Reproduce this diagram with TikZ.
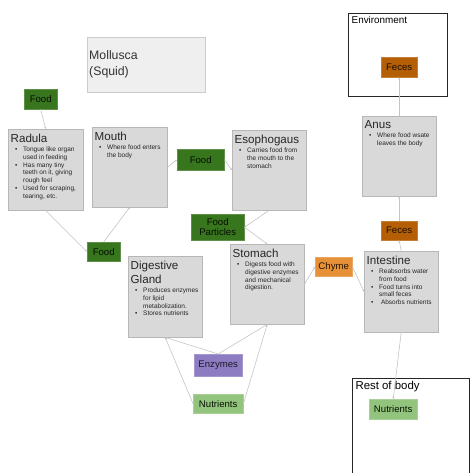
\documentclass[tikz,border=0pt]{standalone}
\usepackage{fontspec}
\setmainfont{Liberation Sans}
\usetikzlibrary{arrows.meta}

\definecolor{organfill}{HTML}{D9D9D9}
\definecolor{organline}{HTML}{B7B7B7}
\definecolor{titlefill}{HTML}{EFEFEF}
\definecolor{foodgreen}{HTML}{38761D}
\definecolor{fecesbrown}{HTML}{B45F06}
\definecolor{chymeorange}{HTML}{E69138}
\definecolor{enzymepurple}{HTML}{8E7CC3}
\definecolor{nutrientgreen}{HTML}{93C47D}
\definecolor{linkgray}{HTML}{C4C4C4}

\newcommand{\nl}{\hfil\break}
\newcommand{\bitem}[1]{\par\hangindent=12.5pt\hangafter=1\noindent\hbox to 12.5pt{\hspace{4.5pt}\textbullet\hfil}#1}
\newcommand{\boxtext}[4]{\begin{minipage}[t][#1][t]{#2}\raggedright
  \fontsize{11.6}{14}\selectfont #3\par
  \fontsize{6.5}{7.8}\selectfont\vspace{1.5pt}#4\end{minipage}}

\tikzset{
  organ/.style={rectangle, draw=organline, fill=organfill, anchor=north west,
    inner xsep=2.5pt, inner ysep=4.5pt, text=black!85},
  holder/.style={rectangle, draw=black!85, line width=1.3pt, fill=white,
    anchor=north west, inner sep=3pt},
  tag/.style={rectangle, anchor=north west, inner sep=0pt, align=center,
    font=\fontsize{9.6}{11}\selectfont},
  food/.style={tag, fill=foodgreen, draw=foodgreen!80!white, text=black!90!foodgreen},
  feces/.style={tag, fill=fecesbrown, draw=fecesbrown!80!white, text=black!85!fecesbrown},
  chyme/.style={tag, fill=chymeorange, draw=chymeorange!80!white, text=black!80!fecesbrown},
  enzyme/.style={tag, fill=enzymepurple, draw=enzymepurple!80!white, text=black!80!enzymepurple},
  nutrient/.style={tag, fill=nutrientgreen, draw=nutrientgreen!80!white, text=black!85!foodgreen},
  link/.style={draw=linkgray, line width=0.6pt, -{Stealth[length=2.2pt,width=2pt]}}
}

\begin{document}
\begin{tikzpicture}
  [x=1pt, y=-1pt]
  \useasboundingbox (0,0) rectangle (474,473);

  % title and the two places outside the squid
  \node[rectangle, draw=black!20, fill=titlefill, anchor=north west, inner xsep=2pt,
    text width=114pt, minimum height=55pt, align=left, text=black!80,
    font=\fontsize{12.3}{16}\selectfont] (mollusca) at (87,37) {Mollusca\\(Squid)};
  \node[holder] (environment) at (348,13)
    {\parbox[t][77pt][t]{93pt}{\fontsize{9.9}{12}\selectfont Environment}};
  \node[holder, line width=1.1pt] (restofbody) at (352,378)
    {\parbox[t][100pt][t]{111pt}{\fontsize{11.4}{13}\selectfont Rest of body}};

  % organs
  \node[organ] (radula) at (8,129) {\boxtext{72pt}{70pt}{Radula}{%
    \bitem{Tongue like organ\nl used in feeding}%
    \bitem{Has many tiny\nl teeth on it, giving\nl rough feel}%
    \bitem{Used for scraping,\nl tearing, etc.}}};
  \node[organ] (mouth) at (92,127) {\boxtext{71pt}{70pt}{Mouth}{%
    \bitem{Where food enters\nl the body}}};
  \node[organ] (esophagus) at (232,130) {\boxtext{71pt}{69pt}{Esophogaus}{%
    \bitem{Carries food from\nl the mouth to the\nl stomach}}};
  \node[organ] (anus) at (362,116) {\boxtext{71pt}{69pt}{Anus}{%
    \bitem{Where food wsate\nl leaves the body}}};
  \node[organ] (stomach) at (230,244) {\boxtext{71pt}{69pt}{Stomach}{%
    \bitem{Digests food with\nl digestive enzymes\nl and mechanical\nl digestion.}}};
  \node[organ] (gland) at (128,256) {\boxtext{72pt}{69pt}{Digestive\\Gland}{%
    \bitem{Produces enzymes\nl for lipid\nl metabolization.}%
    \bitem{Stores nutrients}}};
  \node[organ] (intestine) at (364,251) {\boxtext{72pt}{69pt}{Intestine}{%
    \bitem{Reabsorbs water\nl from food}%
    \bitem{Food turns into\nl small feces}%
    \bitem{\ Absorbs nutrients}}};

  % what moves between them
  \node[food, minimum width=33pt, minimum height=20pt] (foodin) at (24,89) {Food};
  \node[food, minimum width=47pt, minimum height=21pt] (foodmid) at (177,149) {Food};
  \node[food, minimum width=33pt, minimum height=19pt] (foodlow) at (87,242) {Food};
  \node[food, minimum width=53pt, minimum height=26pt, font=\fontsize{9.6}{10.5}\selectfont]
    (particles) at (191,214) {Food\\Particles};
  \node[chyme, minimum width=37pt, minimum height=19pt] (chyme) at (315,257) {Chyme};
  \node[feces, minimum width=36pt, minimum height=19pt] (fecesin) at (381,221) {Feces};
  \node[feces, minimum width=36pt, minimum height=20pt] (fecesout) at (381,57) {Feces};
  \node[enzyme, minimum width=48pt, minimum height=22pt] (enzymes) at (194,354) {Enzymes};
  \node[nutrient, minimum width=50pt, minimum height=19pt] (nutrients) at (193,394) {Nutrients};
  \node[nutrient, minimum width=48pt, minimum height=20pt] (nutrientsout) at (369,399) {Nutrients};

  \foreach \from/\to in {foodin.south/radula.north, radula.south/foodlow.west,
    foodlow.north/mouth.south, mouth.east/foodmid.west, foodmid.east/esophagus.west,
    esophagus.south/particles.east, particles.east/stomach.north,
    stomach.east/chyme.west, chyme.east/intestine.west,
    intestine.north/fecesin.south, fecesin.north/anus.south, anus.north/fecesout.south,
    intestine.south/nutrientsout.north,
    enzymes.north/gland.south, enzymes.north/stomach.south,
    nutrients.west/gland.south, nutrients.east/stomach.south}
  \draw[link] (\from) -- (\to);
\end{tikzpicture}
\end{document}
